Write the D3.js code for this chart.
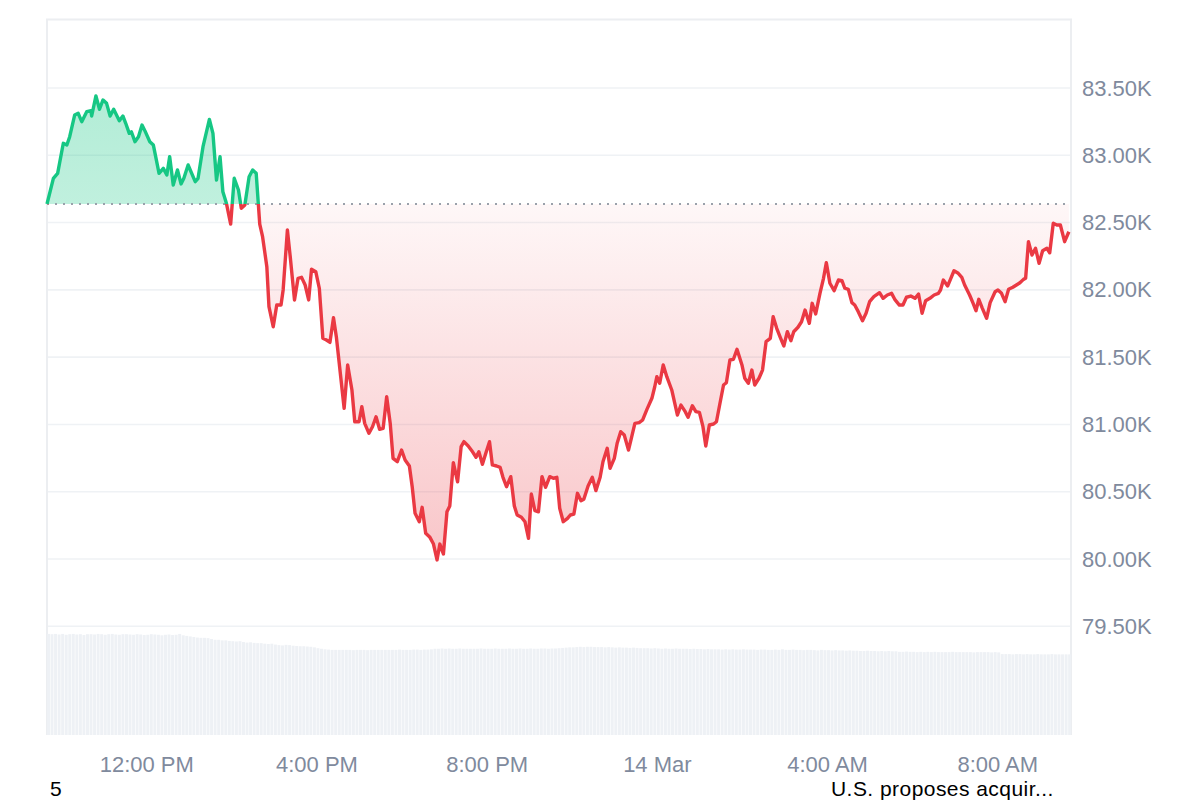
<!DOCTYPE html>
<html><head><meta charset="utf-8">
<script src="https://cdn.jsdelivr.net/npm/d3@7"></script>
<style>body{margin:0;background:#fff}svg{display:block}text{font-family:"Liberation Sans",Arial,Helvetica,sans-serif}</style>
</head><body><svg id="c" width="1200" height="800"></svg>
<script>
// ---------- DATA ----------
const startTime = "2025-03-13T09:40:00";
const openPrice = 82638;
const minutes = [
0,9,15,23,28,32,39,44,49,56,62,63,69,74,79,84,89,94,102,107,
111,116,119,124,129,134,138,145,150,158,164,169,173,178,184,189,193,199,209,213,
220,229,234,239,244,248,253,259,264,270,274,279,285,290,295,300,304,
310,313,319,324,330,333,339,343,349,354,359,364,369,373,379,384,389,394,399,404,
408,419,424,430,434,440,444,448,454,459,464,469,474,479,484,488,494,500,505,511,
515,519,525,529,534,540,545,550,554,559,564,568,573,579,584,588,594,599,605,609,
614,619,624,628,634,639,643,648,654,659,663,669,674,679,683,688,693,698,703,709,
714,719,723,728,734,738,743,748,753,757,763,769,774,780,784,790,794,800,804,809,
814,820,824,829,835,840,846,853,857,860,864,869,874,881,889,894,900,904,910,915,
920,925,929,934,940,944,949,954,958,963,968,973,980,984,989,994,998,1004,1009,1014,
1020,1024,1029,1034,1039,1044,1049,1053,1059,1064,1069,1075,1079,1084,1090,1095,1099,1104,1110,1116,
1121,1125,1130,1135,1139,1144,1150,1155,1160,1166,1174,1179,1185,1191,1196,1202,1207,1212,1218,1224,
1229,1234,1239,1245,1251,1257,1260,1264,1270,1274,1279,1285,1290,1294,1301,1306,1310,1314,1319,1325,
1330,1337,1341,1346,1351,1356,1362,1367,1372,1377,1380,1384,1389,1394,1399,1404,1410,1414,1419,1424,
1429,1435,1441
];
const prices = [
82638,82829,82866,83089,83076,83138,83299,83312,83250,83324,83331,83292,83441,83342,83411,83386,83292,83342,83257,83292,
83238,83163,83175,83101,83138,83225,83183,83101,83076,82866,82903,82854,82990,82779,82891,82787,82829,82928,82804,82829,
83064,83267,83163,82816,82990,82729,82643,82489,82829,82742,82606,82631,82841,82891,82866,82489,82395,
82172,81875,81726,81887,81887,81999,82445,82246,81925,82086,82093,82036,81925,82153,82135,82012,81640,81627,81610,81793,
81652,81120,81442,81256,81020,81020,81132,81008,80934,80983,81057,80964,80971,81206,81008,80748,80723,80810,80736,80691,
80537,80340,80277,80384,80191,80161,80111,79993,80111,80037,80351,80394,80716,80574,80835,80872,80840,80805,80756,80797,
80704,80790,80872,80699,80691,80681,80607,80537,80612,80394,80327,80310,80277,80154,80483,80359,80351,80612,80533,80612,
80600,80607,80377,80277,80302,80327,80334,80488,80433,80444,80542,80607,80508,80607,80723,80823,80674,80748,80860,80946,
80921,80810,80897,81008,81013,81033,81112,81194,81280,81355,81306,81442,81355,81256,81070,81144,81095,81053,81139,81095,
81090,80983,80840,80996,81003,81020,81157,81293,81310,81479,81484,81558,81442,81343,81306,81404,81293,81343,81404,81615,
81640,81801,81714,81647,81583,81689,81622,81689,81722,81763,81850,81751,81900,81821,81974,82086,82202,82049,81994,82073,
82068,82012,82004,81905,81887,81838,81771,81826,81912,81949,81979,81937,81962,81974,81925,81887,81887,81945,81954,81937,
81969,81826,81919,81937,81962,81974,81999,82073,82029,82078,82142,82123,82093,82036,81962,81900,81845,81930,81863,81789,
81905,81986,81999,81974,81912,82004,82019,82036,82053,82078,82086,82358,82259,82309,82197,82291,82309,82276,82495,82482,
82482,82358,82432
];
// rolling volume (billions), one bar per 5 minutes
const volumeStepMinutes = 5;
const volumes = [
36.1,36.0,36.1,35.9,36.1,35.8,36.0,36.1,35.9,36.0,35.7,36.0,
36.0,35.9,36.1,36.0,35.8,36.0,36.1,35.9,35.8,36.0,36.0,35.9,
35.8,36.0,35.9,35.7,35.8,36.0,35.9,35.8,35.6,35.8,35.9,35.7,
35.8,36.1,35.6,35.4,35.2,35.0,34.8,34.7,34.7,34.6,34.3,34.0,
34.0,33.8,33.8,33.6,33.5,33.4,33.5,33.2,33.0,33.1,32.9,32.8,
32.8,32.6,32.5,32.6,32.3,32.1,32.0,32.2,32.1,31.9,31.8,31.7,
31.7,31.6,31.5,31.3,31.0,30.8,30.6,30.5,30.4,30.4,30.4,30.4,
30.4,30.4,30.3,30.4,30.4,30.4,30.3,30.4,30.4,30.4,30.4,30.4,
30.4,30.4,30.4,30.5,30.4,30.4,30.4,30.5,30.5,30.4,30.5,30.5,
30.6,30.8,30.8,30.9,30.8,30.9,30.8,30.8,30.9,30.8,30.8,30.8,
30.8,30.8,30.9,30.8,30.8,30.8,30.9,30.8,30.8,30.8,30.9,30.8,
30.8,30.9,30.8,30.8,30.9,30.8,30.8,30.9,30.9,30.8,30.9,30.9,
31.0,31.1,31.2,31.3,31.3,31.4,31.5,31.4,31.5,31.5,31.4,31.4,
31.4,31.3,31.4,31.3,31.2,31.3,31.2,31.2,31.1,31.2,31.1,31.0,
31.0,31.0,30.9,31.0,30.9,30.8,30.9,30.8,30.8,30.9,30.8,30.8,
30.8,30.7,30.8,30.7,30.7,30.6,30.7,30.6,30.6,30.6,30.5,30.6,
30.5,30.6,30.5,30.5,30.6,30.5,30.5,30.5,30.4,30.5,30.5,30.4,
30.4,30.5,30.4,30.6,30.4,30.4,30.5,30.4,30.4,30.3,30.4,30.4,
30.3,30.2,30.4,30.3,30.3,30.2,30.3,30.2,30.2,30.1,30.2,30.1,
30.1,30.0,30.0,30.1,30.0,30.0,29.9,30.0,29.9,30.0,29.9,29.9,
29.7,29.7,29.8,29.7,29.7,29.6,29.7,29.6,29.7,29.6,29.7,29.6,
29.6,29.6,29.6,29.7,29.6,29.6,29.6,29.6,29.6,29.5,29.6,29.6,
29.6,29.6,29.5,29.6,29.5,28.9,28.9,28.9,28.8,28.9,28.9,28.8,
28.9,28.8,28.8,28.9,28.8,28.8,28.8,28.9,28.8,28.8,28.8,28.8,
28.8
];
const priceTicks = [79500,80000,80500,81000,81500,82000,82500,83000,83500];
const footnoteLeft = "5";
const footnoteRight = "U.S. proposes acquir...";

// ---------- CHART ----------
const svg = d3.select("#c");
const L = 47, R = 1071, T = 19.5, B = 735;
const FS = "22px";
const t0 = new Date(startTime);
const data = minutes.map((m,i)=>({t:d3.timeMinute.offset(t0,m), v:prices[i]}));

const x = d3.scaleTime().domain([t0, d3.timeMinute.offset(t0,1444)]).range([L,R]);
const y = d3.scaleLinear().domain([80000,83500]).range([559,88]);
const yv = d3.scaleLinear().domain([0,36.07]).range([B,634]);
const y0 = y(openPrice);

const defs = svg.append("defs");
const gG = defs.append("linearGradient").attr("id","gGreen").attr("gradientUnits","userSpaceOnUse")
  .attr("x1",0).attr("x2",0).attr("y1",y(83450)).attr("y2",y0);
gG.append("stop").attr("offset",0).attr("stop-color","#16c784").attr("stop-opacity",0.33);
gG.append("stop").attr("offset",1).attr("stop-color","#16c784").attr("stop-opacity",0.27);
const gR = defs.append("linearGradient").attr("id","gRed").attr("gradientUnits","userSpaceOnUse")
  .attr("x1",0).attr("x2",0).attr("y1",y0).attr("y2",y(80000));
gR.append("stop").attr("offset",0).attr("stop-color","#ea3943").attr("stop-opacity",0.04);
gR.append("stop").attr("offset",1).attr("stop-color","#ea3943").attr("stop-opacity",0.29);
defs.append("clipPath").attr("id","above").append("rect").attr("x",0).attr("y",0).attr("width",1200).attr("height",y0);
defs.append("clipPath").attr("id","below").append("rect").attr("x",0).attr("y",y0).attr("width",1200).attr("height",800-y0);

// grid
svg.append("g").selectAll("line").data(priceTicks).join("line")
  .attr("x1",L).attr("x2",R).attr("y1",d=>y(d)).attr("y2",d=>y(d))
  .attr("stroke","#eff2f5").attr("stroke-width",1.6);
// frame
svg.append("path").attr("d",`M${L},${B}V${T}H${R}V${B}`).attr("fill","none")
  .attr("stroke","#eceef1").attr("stroke-width",2);

// volume bars
const bw = x(d3.timeMinute.offset(t0,volumeStepMinutes)) - x(t0);
svg.append("g").selectAll("rect").data(volumes).join("rect")
  .attr("x",(d,i)=>x(d3.timeMinute.offset(t0,i*volumeStepMinutes)))
  .attr("width",bw-0.6)
  .attr("y",d=>yv(d)).attr("height",d=>B-yv(d))
  .attr("fill","#eef1f5");

// areas
const area = d3.area().x(d=>x(d.t)).y0(y0).y1(d=>y(d.v));
svg.append("path").datum(data).attr("d",area).attr("fill","url(#gGreen)").attr("clip-path","url(#above)");
svg.append("path").datum(data).attr("d",area).attr("fill","url(#gRed)").attr("clip-path","url(#below)");

// baseline
svg.append("line").attr("x1",L).attr("x2",R).attr("y1",y0).attr("y2",y0)
  .attr("stroke","#9aa1ab").attr("stroke-width",1.8).attr("stroke-dasharray","2,6");

// lines
const line = d3.line().x(d=>x(d.t)).y(d=>y(d.v));
svg.append("path").datum(data).attr("d",line).attr("fill","none").attr("stroke","#16c784")
  .attr("stroke-width",3.4).attr("stroke-linejoin","round").attr("clip-path","url(#above)");
svg.append("path").datum(data).attr("d",line).attr("fill","none").attr("stroke","#ea3943")
  .attr("stroke-width",3.4).attr("stroke-linejoin","round").attr("clip-path","url(#below)");

// axes
const yAxis = svg.append("g").attr("transform",`translate(${R},0)`)
  .call(d3.axisRight(y).tickValues(priceTicks).tickSize(0).tickPadding(11)
    .tickFormat(d=>(d/1000).toFixed(2)+"K"));
yAxis.select(".domain").remove();
yAxis.selectAll("text").attr("fill","#808a9d").style("font-size",FS);

const fmtDay = d3.timeFormat("%-d %b"), fmtHour = d3.timeFormat("%-I:%M %p");
const xAxis = svg.append("g").attr("transform",`translate(0,${B})`)
  .call(d3.axisBottom(x).ticks(d3.timeHour.every(4)).tickSize(0).tickPadding(21)
    .tickFormat(d=>d.getHours()===0?fmtDay(d):fmtHour(d)));
xAxis.select(".domain").remove();
xAxis.selectAll("text").attr("fill","#808a9d").style("font-size",FS);

// footnotes
svg.append("text").attr("x",50).attr("y",795.5).attr("fill","#000").style("font-size","21px").text(footnoteLeft);
svg.append("text").attr("x",831).attr("y",795.5).attr("fill","#000").style("font-size","21px")
  .style("letter-spacing","0.45px").text(footnoteRight);
</script></body></html>
